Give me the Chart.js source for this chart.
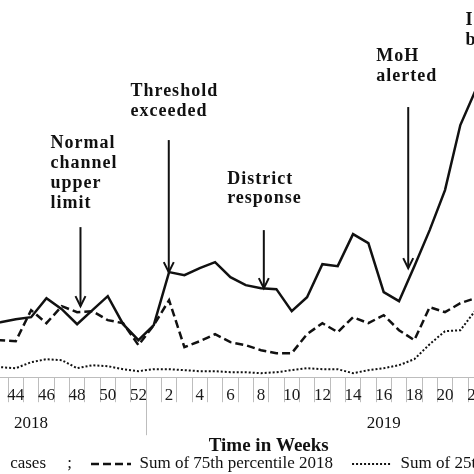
<!DOCTYPE html>
<html>
<head>
<meta charset="utf-8">
<script src="https://cdn.jsdelivr.net/npm/chart.js@4.4.0/dist/chart.umd.min.js"></script>
<style>
  html, body { margin: 0; padding: 0; background: #fff; overflow: hidden; }
  #wrap { position: relative; width: 474px; height: 474px; overflow: hidden; background: #fff; }
  #c { position: absolute; left: -162.5px; top: 0; }
</style>
</head>
<body>
<div id="wrap"><canvas id="c" width="800" height="488"></canvas></div>
<script>
// ---------------- DATA ----------------
const weeks2018 = [38, 39, 40, 41, 42, 43, 44, 45, 46, 47, 48, 49, 50, 51, 52];
const weeks2019 = [1, 2, 3, 4, 5, 6, 7, 8, 9, 10, 11, 12, 13, 14, 15, 16, 17, 18, 19, 20,
                   21, 22, 23, 24, 25, 26, 27, 28, 29, 30, 31];
const yearLabels = ['2018', '2019'];
const weekLabels = [...weeks2018, ...weeks2019].map(String);

const seriesNames = ['Number of    cases     ;    ', 'Sum of 75th percentile 2018    ', 'Sum of 25th percentile 2018'];

// weekly cases (2018 wk38 ... 2019 wk31); null = outside the visible picture
const cases = [null, null, null, null, 54, 55, 58, 60, 79, 68, 53, 67, 81, 53, 37,
               52, 105, 102, 109, 115, 100, 92, 89, 88, 66, 80, 113, 111, 143, 134, 85, 76, 111, 147, 187, 252, 287,
               null, null, null, null, null, null, null, null, null];
const p75 = [null, null, null, null, 37, 37, 36, 67, 54, 71, 65, 66, 57, 54, 32,
             52, 77, 30, 36, 43, 35, 32, 27, 24, 24, 43, 54, 45, 60, 54, 62, 47, 37, 70, 65, 74, 79,
             null, null, null, null, null, null, null, null, null];
const p25 = [null, null, null, null, 10, 10, 9, 15, 18, 17, 9, 12, 11, 8, 6,
             8, 8, 7, 6, 6, 5, 5, 4, 5, 7, 9, 8, 8, 4, 7, 9, 12, 18, 33, 46, 47, 67,
             null, null, null, null, null, null, null, null, null];

// annotation texts
const annotationTexts = [
  ['Normal', 'channel', 'upper', 'limit'],
  ['Threshold', 'exceeded'],
  ['District', 'response'],
  ['MoH', 'alerted'],
  ['Intervention', 'began']
];

// ---------------- STYLE / PLACEMENT ----------------
const SERIF = "'Liberation Serif', 'Times New Roman', serif";
const GRAY = '#bdbdbd';
const INK = '#111111';
// annotation anchors in scale units: [category index, value]
const annotationTextAt = [[8.26, 234], [13.48, 285.4], [19.79, 198], [29.51, 320.4], [35.33, 356.4]];
const annotationLineGap = [20, 20, 19, 20, 20];
// arrows: [category index, top value, tip value]
const arrowsAt = [[10.22, 150, 71], [15.98, 237, 105], [22.18, 147, 89], [31.6, 270, 109]];

const overlay = {
  id: 'overlay',
  afterDraw(chart) {
    const ctx = chart.ctx;
    const xs = chart.scales.x, ys = chart.scales.y;
    ctx.save();
    // year separator of the two-level axis
    const sepX = Math.round(xs.getPixelForValue(weeks2018.length - 0.5)) + 0.5;
    ctx.strokeStyle = GRAY;
    ctx.lineWidth = 1;
    ctx.beginPath();
    ctx.moveTo(sepX, xs.top);
    ctx.lineTo(sepX, xs.top + 58);
    ctx.stroke();
    // year labels
    ctx.fillStyle = INK;
    ctx.font = '17px ' + SERIF;
    ctx.textAlign = 'center';
    ctx.textBaseline = 'middle';
    const c1 = (xs.getPixelForValue(0) + xs.getPixelForValue(weeks2018.length - 1)) / 2;
    const c2 = (xs.getPixelForValue(weeks2018.length) + xs.getPixelForValue(weekLabels.length - 1)) / 2;
    ctx.fillText(yearLabels[0], c1, xs.top + 46);
    ctx.fillText(yearLabels[1], c2, xs.top + 46);

    // annotation texts
    ctx.font = 'bold 18px ' + SERIF;
    ctx.textAlign = 'left';
    try { ctx.letterSpacing = '1px'; } catch (e) {}
    annotationTexts.forEach((lines, k) => {
      const [ix, v] = annotationTextAt[k];
      const px = xs.getPixelForValue(ix), py = ys.getPixelForValue(v);
      lines.forEach((t, j) => ctx.fillText(t, px, py + j * annotationLineGap[k]));
    });
    try { ctx.letterSpacing = '0px'; } catch (e) {}

    // arrows
    ctx.strokeStyle = INK;
    ctx.lineWidth = 2;
    ctx.lineCap = 'butt';
    arrowsAt.forEach(([ix, top, tip]) => {
      const px = xs.getPixelForValue(ix);
      const y0 = ys.getPixelForValue(top), y1 = ys.getPixelForValue(tip);
      ctx.beginPath();
      ctx.moveTo(px, y0);
      ctx.lineTo(px, y1);
      ctx.stroke();
      ctx.beginPath();
      ctx.moveTo(px - 5, y1 - 10);
      ctx.lineTo(px, y1);
      ctx.lineTo(px + 5, y1 - 10);
      ctx.stroke();
    });
    ctx.restore();
  }
};

const ds = (label, data, width, dash) => ({
  label, data,
  borderColor: INK, backgroundColor: 'rgba(0,0,0,0)',
  borderWidth: width, borderDash: dash,
  pointRadius: 0, tension: 0, fill: false, spanGaps: false,
  borderJoinStyle: 'miter', clip: false
});

new Chart(document.getElementById('c'), {
  type: 'line',
  data: {
    labels: weekLabels,
    datasets: [
      ds(seriesNames[0], cases, 2.5, []),
      ds(seriesNames[1], p75, 2.5, [8, 4]),
      ds(seriesNames[2], p25, 2, [2, 2])
    ]
  },
  options: {
    responsive: false,
    devicePixelRatio: 1,
    animation: false,
    events: [],
    layout: { padding: { left: 5.35, right: 16.7, top: 20, bottom: 5.5 } },
    scales: {
      x: {
        type: 'category',
        offset: true,
        grid: { display: true, drawOnChartArea: false, drawTicks: true, tickLength: 25, color: GRAY, lineWidth: 1, offset: true },
        border: { display: true, color: GRAY, width: 1 },
        ticks: {
          autoSkip: false, maxRotation: 0, minRotation: 0, padding: -17.2,
          font: { family: SERIF, size: 17 }, color: '#1a1a1a',
          callback(v, i) { const w = weekLabels[i]; return (+w % 2 === 0) ? w : ''; }
        },
        title: {
          display: true, text: 'Time in Weeks', color: INK,
          font: { family: SERIF, size: 19, weight: 'bold', lineHeight: 1 },
          padding: { top: 48.3, bottom: -2 }
        }
      },
      y: {
        type: 'linear', min: 0, max: 357,
        display: true,
        grid: { display: false },
        border: { display: false },
        ticks: { display: false },
        afterFit(scale) { scale.width = 72.8; }
      }
    },
    plugins: {
      tooltip: { enabled: false },
      legend: {
        position: 'bottom',
        labels: {
          usePointStyle: true, pointStyle: 'line', pointStyleWidth: 40, padding: 2,
          font: { family: SERIF, size: 17 }, color: INK,
          generateLabels(chart) {
            return chart.data.datasets.map((d, i) => ({
              text: d.label, fillStyle: 'rgba(0,0,0,0)', strokeStyle: d.borderColor,
              lineWidth: d.borderWidth, lineDash: d.borderDash, lineCap: 'butt',
              pointStyle: 'line', hidden: false, datasetIndex: i, fontColor: INK
            }));
          }
        }
      }
    }
  },
  plugins: [overlay]
});
</script>
</body>
</html>
